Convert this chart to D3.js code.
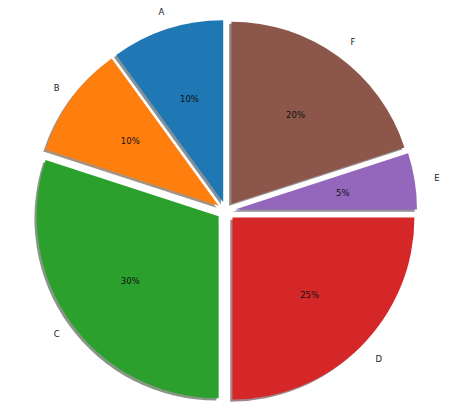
<!DOCTYPE html>
<html>
<head>
<meta charset="utf-8">
<script src="https://cdn.jsdelivr.net/npm/d3@7"></script>
<style>
  html, body { margin: 0; padding: 0; background: #fff; }
  svg { display: block; }
  text { font-family: "DejaVu Sans", sans-serif; }
</style>
</head>
<body>
<svg id="chart" width="474" height="412"></svg>
<script>
const labels = ["A", "B", "C", "D", "E", "F"];
const values = [10, 10, 30, 25, 5, 20];
const colors = ["#1f77b4", "#ff7f0e", "#2ca02c", "#d62728", "#9467bd", "#8c564b"];

const W = 474, H = 412;
const cx = 226, cy = 211, R = 182;
const explode = 0.05;       // fraction of radius
const shadowOff = 2.2;      // px, left & down
const fontSize = 8.5;

const svg = d3.select("#chart");
const g = svg.append("g").attr("transform", `translate(${cx},${cy})`);

const data = labels.map((l, i) => ({ label: l, value: values[i], color: colors[i] }));
const total = d3.sum(values);

// matplotlib: counterclockwise starting at 12 o'clock
const pie = d3.pie().sort(null).value(d => d.value)
  .startAngle(0).endAngle(-2 * Math.PI);
const arcs = pie(data);
const arc = d3.arc().innerRadius(0).outerRadius(R);

function dir(a) { return [Math.sin(a), -Math.cos(a)]; }
arcs.forEach(d => {
  const m = (d.startAngle + d.endAngle) / 2;
  const [ux, uy] = dir(m);
  d.ox = ux * explode * R;
  d.oy = uy * explode * R;
  d.ux = ux; d.uy = uy;
});

// shadows (drawn below all wedges)
g.append("g").selectAll("path").data(arcs).join("path")
  .attr("d", arc)
  .attr("transform", d => `translate(${d.ox - shadowOff},${d.oy + shadowOff})`)
  .attr("fill", d => {
    const c = d3.rgb(d.data.color);
    return d3.rgb(c.r * 0.3, c.g * 0.3, c.b * 0.3).toString();
  })
  .attr("opacity", 0.5);

// wedges
g.append("g").selectAll("path").data(arcs).join("path")
  .attr("d", arc)
  .attr("transform", d => `translate(${d.ox},${d.oy})`)
  .attr("fill", d => d.data.color);

// percentages
g.append("g").selectAll("text").data(arcs).join("text")
  .attr("x", d => d.ox + d.ux * 0.6 * R)
  .attr("y", d => d.oy + d.uy * 0.6 * R)
  .attr("text-anchor", "middle")
  .attr("dominant-baseline", "central")
  .attr("font-size", fontSize)
  .attr("fill", "#111")
  .text(d => d3.format(".0f")(d.data.value / total * 100) + "%");

// labels
g.append("g").selectAll("text").data(arcs).join("text")
  .attr("x", d => d.ox + d.ux * 1.1 * R + (d.ux > 0 ? 1.5 : 3))
  .attr("y", d => d.oy + d.uy * 1.1 * R)
  .attr("text-anchor", d => d.ux > 0 ? "start" : "end")
  .attr("dominant-baseline", "central")
  .attr("font-size", fontSize)
  .attr("fill", "#222")
  .text(d => d.data.label);
</script>
</body>
</html>
